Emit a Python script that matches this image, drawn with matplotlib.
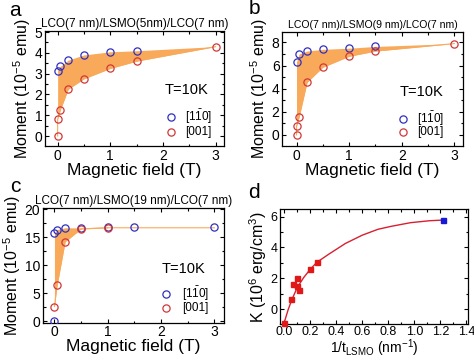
import numpy as np
import matplotlib
matplotlib.use("Agg")
import matplotlib.pyplot as plt
from matplotlib.ticker import MultipleLocator, FormatStrFormatter

plt.rcParams['font.family'] = ['Liberation Sans', 'DejaVu Sans']
plt.rcParams['mathtext.fontset'] = 'custom'
plt.rcParams['mathtext.rm'] = 'Liberation Sans'
plt.rcParams['mathtext.it'] = 'Liberation Sans:italic'
plt.rcParams['mathtext.bf'] = 'Liberation Sans:bold'

# ---------------- data ----------------
# panel a : LSMO 5 nm
a_blue_x = [0.0, 0.05, 0.2, 0.5, 1.0, 1.5]
a_blue_y = [3.15, 3.35, 3.65, 3.9, 4.05, 4.1]
a_red_x = [0.0, 0.0, 0.05, 0.2, 0.5, 1.0, 1.5, 3.0]
a_red_y = [0.0, 0.8, 1.25, 2.25, 2.75, 3.25, 3.6, 4.3]

# panel b : LSMO 9 nm
b_blue_x = [0.0, 0.05, 0.2, 0.5, 1.0, 1.5]
b_blue_y = [6.3, 7.0, 7.25, 7.4, 7.5, 7.65]
b_red_x = [0.0, 0.0, 0.05, 0.2, 0.5, 1.0, 1.5, 3.0]
b_red_y = [0.0, 0.75, 1.55, 4.55, 5.85, 6.8, 7.25, 7.9]

# panel c : LSMO 19 nm
c_blue_x = [0.0, 0.0, 0.05, 0.2, 0.5, 1.0, 1.5, 3.0]
c_blue_y = [0.0, 15.8, 16.4, 16.7, 16.7, 16.9, 16.9, 16.9]
c_red_x = [0.0, 0.05, 0.2, 0.5, 1.0]
c_red_y = [2.6, 6.4, 14.2, 16.5, 16.7]

# panel d : anisotropy vs 1/t
d_red_x = [0.0, 0.051, 0.069, 0.102, 0.102, 0.113, 0.2, 0.25]
d_red_y = [-0.88, 0.66, 1.65, 2.04, 1.52, 1.27, 2.58, 3.03]
d_blue_x = [1.223]
d_blue_y = [5.78]
d_fit_x = [0.0, 0.03, 0.056, 0.1, 0.15, 0.2, 0.25, 0.34, 0.47, 0.6, 0.72,
           0.82, 0.97, 1.12, 1.223]
d_fit_y = [-0.88, -0.05, 0.55, 1.4, 2.05, 2.58, 3.03, 3.55, 4.26, 4.8, 5.18,
           5.37, 5.61, 5.74, 5.78]

titles = ["LCO(7 nm)/LSMO(5nm)/LCO(7 nm)",
          "LCO(7 nm)/LSMO(9 nm)/LCO(7 nm)",
          "LCO(7 nm)/LSMO(19 nm)/LCO(7 nm)"]
legend_labels = [r"[1$\bar{1}$0]", "[001]"]

BLUE = '#3030c0'
RED = '#d03838'
ORANGE = '#f8aa5a'

W, H = 474, 358
fig = plt.figure(figsize=(W / 100, H / 100), dpi=100)


def box(l, r, t, b):
    return [l / W, 1 - b / H, (r - l) / W, (b - t) / H]


def style(ax, xmaj, xmin, ymaj, ymin, ls=10, xpad=2):
    ax.xaxis.set_major_locator(MultipleLocator(xmaj))
    ax.xaxis.set_minor_locator(MultipleLocator(xmin))
    ax.yaxis.set_major_locator(MultipleLocator(ymaj))
    ax.yaxis.set_minor_locator(MultipleLocator(ymin))
    ax.tick_params(which='both', direction='in', top=True, right=True,
                   labelsize=ls, width=0.8, pad=2)
    ax.tick_params(axis='x', which='both', pad=xpad)
    ax.tick_params(which='major', length=3)
    ax.tick_params(which='minor', length=1.8)
    for s in ax.spines.values():
        s.set_linewidth(0.9)


def mpanel(ax, bx, by, rx, ry, title, tpos, lpos, tfs):
    ux, uy = [], []
    for x, y in zip(bx, by):
        if ux and ux[-1] == x:
            uy[-1] = max(uy[-1], y)
        else:
            ux.append(x); uy.append(y)
    lx, ly = [], []
    for x, y in zip(rx, ry):
        if lx and lx[-1] == x:
            ly[-1] = max(ly[-1], y)
        else:
            lx.append(x); ly.append(y)
    xmax = max(max(ux), max(lx))
    if lx[-1] > ux[-1]:
        ux.append(lx[-1]); uy.append(ly[-1])
    grid = np.linspace(0, xmax, 600)
    up = np.interp(grid, ux, uy)
    lo = np.interp(grid, lx, ly)
    ax.fill_between(grid, lo, np.maximum(up, lo), color=ORANGE, lw=0, zorder=1)
    ax.plot(rx, ry, color=ORANGE, lw=0.8, zorder=1.5)
    ax.plot(bx, by, 'o', mfc='none', mec=BLUE, ms=5.2, mew=0.9, zorder=3)
    ax.plot(rx, ry, 'o', mfc='none', mec=RED, ms=5.2, mew=0.9, zorder=3)
    ax.set_title(title, fontsize=tfs, pad=3)
    ax.set_xlabel("Magnetic field (T)", fontsize=12.5, labelpad=0)
    ax.set_ylabel(r"Moment (10$^{-5}$ emu)", fontsize=11.5, labelpad=1)
    ax.text(tpos[0], tpos[1], "T=10K", transform=ax.transAxes, fontsize=10.5,
            ha='center', va='center')
    mx, ty, ry_, tx = lpos
    ax.plot([mx], [ty], 'o', mfc='none', mec=BLUE, ms=5.2, mew=0.9,
            transform=ax.transAxes, clip_on=False)
    ax.plot([mx], [ry_], 'o', mfc='none', mec=RED, ms=5.2, mew=0.9,
            transform=ax.transAxes, clip_on=False)
    ax.text(tx, ty, legend_labels[0], transform=ax.transAxes, fontsize=8.5,
            ha='left', va='center')
    ax.text(tx, ry_, legend_labels[1], transform=ax.transAxes, fontsize=8.5,
            ha='left', va='center')


# panel a
axa = fig.add_axes(box(45, 224, 31, 146))
mpanel(axa, a_blue_x, a_blue_y, a_red_x, a_red_y, titles[0],
       (0.79, 0.487), (0.702, 0.25, 0.124, 0.782), 8.5)
axa.set_xlim(-0.24, 3.16)
axa.set_ylim(-0.48, 5.05)
style(axa, 1, 0.5, 1, 0.5)

# panel b
axb = fig.add_axes(box(282.3, 462.7, 32, 146))
mpanel(axb, b_blue_x, b_blue_y, b_red_x, b_red_y, titles[1],
       (0.774, 0.476), (0.667, 0.24, 0.12, 0.747), 7.6)
axb.set_xlim(-0.27, 3.16)
axb.set_ylim(-0.96, 8.9)
style(axb, 1, 0.5, 2, 1)

# panel c
axc = fig.add_axes(box(42.7, 224, 208.3, 322.7))
mpanel(axc, c_blue_x, c_blue_y, c_red_x, c_red_y, titles[2],
       (0.776, 0.469), (0.678, 0.25, 0.125, 0.767), 8.5)
axc.set_xlim(-0.22, 3.18)
axc.set_ylim(-0.3, 20.2)
style(axc, 1, 0.5, 5, 2.5)

# panel d
axd = fig.add_axes(box(280.3, 467.7, 209.3, 324.3))
axd.plot(d_fit_x, d_fit_y, color='#d82030', lw=1.0, zorder=2)
axd.plot(d_red_x, d_red_y, 's', color='#e01818', ms=3.6, zorder=3,
         clip_on=False)
axd.plot(d_blue_x, d_blue_y, 's', color='#1818d8', ms=3.6, zorder=3)
axd.set_xlim(-0.03, 1.41)
axd.set_ylim(-0.99, 6.48)
style(axd, 0.2, 0.1, 2, 1, ls=9, xpad=1.5)
axd.xaxis.set_major_formatter(FormatStrFormatter('%.1f'))
axd.set_xlabel(r"1/t$_{\rm LSMO}$ (nm$^{-1}$)", fontsize=10, labelpad=-0.5)
axd.set_ylabel(r"K (10$^6$ erg/cm$^3$)", fontsize=11.5, labelpad=1)

# panel letters
for lab, (x, y) in zip("abcd", [(15, 10), (254, 9), (15, 187), (254, 193)]):
    fig.text(x / W, 1 - y / H, lab, fontsize=15, ha='center', va='center')

fig.savefig("out.png", dpi=100)
